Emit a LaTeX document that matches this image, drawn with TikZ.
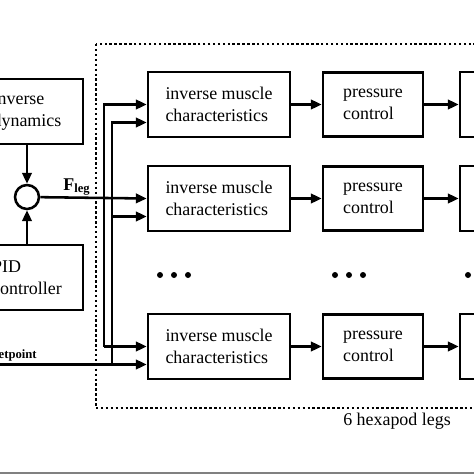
\documentclass[tikz,border=0pt]{standalone}
\usepackage{fontspec}
\setmainfont{Liberation Serif}
\usetikzlibrary{arrows.meta, positioning, calc}
\definecolor{bargray}{RGB}{128, 128, 128}

\tikzset{
  blk/.style={draw, line width=1.45pt, inner sep=0pt, align=left,
    font=\fontsize{10.2}{12.5}\selectfont},
  musclebox/.style={blk, minimum width=2.84cm, minimum height=1.3cm},
  pressbox/.style={blk, minimum width=2cm, minimum height=1.28cm},
  ctrlbox/.style={blk, minimum width=2.24cm, minimum height=1.3cm},
  arr/.style={line width=1.45pt, -{Triangle[length=6.2pt, width=5.4pt]}},
  legframe/.style={line width=1.6pt, dash pattern=on 1.4pt off 1.4pt}
}

\begin{document}
\begin{tikzpicture}[x=0.02cm, y=-0.02cm]
\useasboundingbox (0,0) rectangle (474,474);

% Frame of the legs
\draw[legframe] (96,44) rectangle (500,408);
\node[font=\fontsize{10.2}{12}\selectfont] (legs) at (397,421) {6 hexapod legs};

% Left side controllers
\node[ctrlbox] (invdyn) at (27,111.5) {inverse\\dynamics};
\node[ctrlbox] (pid) at (27,277.5) {PID\\controller};
\node[draw, circle, line width=1.45pt, minimum size=0.48cm, inner sep=0pt] (sum) at (27,197) {};
\draw[arr] (invdyn) -- (sum);
\draw[arr] (pid) -- (sum);

% Rows of blocks
\foreach \r/\y in {1/104.5, 2/198.5, 3/346.5} {
  \node[musclebox] (m\r) at (219,\y) {inverse muscle\\characteristics};
  \node[pressbox] (p\r) at (373,\y) {pressure\\control};
  \node[blk, minimum width=2cm, minimum height=1.3cm] (o\r) at (510,\y) {};
  \draw[arr] (m\r) -- (p\r);
  \draw[arr] (p\r) -- (o\r);
  \coordinate (in\r) at ($(m\r.west)+(0,18)$);
}

% Dots between rows
\foreach \x in {160,174,188, 335,349,363, 468}
  \fill (\x,275) circle (3);

% Force bus
\coordinate (busA) at (104,0);
\draw[arr] (sum) -- (m2.west);
\node[font=\bfseries\fontsize{10.2}{12}\selectfont, anchor=base west, inner sep=0pt] (flabel) at (63,190) {F\textsubscript{leg}};
\draw[arr] (busA |- m3.west) |- (m1.west);
\draw[arr] (busA |- m3.west) -- (m3.west);

% Setpoint bus
\coordinate (busB) at (112,0);
\coordinate (setp) at (-5,0 |- in3);
\draw[arr] (setp) -- (in3);
\node[font=\bfseries\fontsize{7.2}{8}\selectfont, anchor=base east, inner sep=0pt] (slabel) at (37,358) {setpoint};
\draw[arr] (busB |- in3) |- (in1);
\draw[arr] (busB |- in2) -- (in2);

% Bottom bar
\fill[bargray] (0,471.5) rectangle (474,474);
\end{tikzpicture}
\end{document}
